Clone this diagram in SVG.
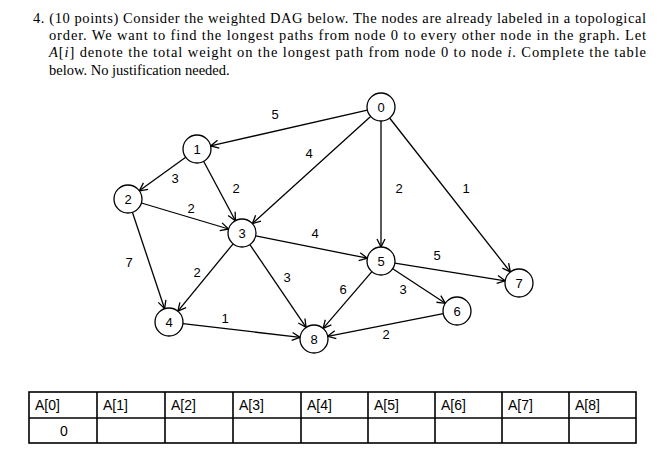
<svg xmlns="http://www.w3.org/2000/svg" width="666" height="455" viewBox="0 0 666 455">
<style>
.q{font-family:"Liberation Serif",serif;font-size:14.5px;fill:#000}
.n circle{fill:#fff;stroke:#000;stroke-width:1.3}
.n text,.w{font-family:"Liberation Sans",Arial,sans-serif;font-size:13px;text-anchor:middle;fill:#000}
.e line{stroke:#000;stroke-width:1.3;marker-end:url(#a)}
.t rect,.t line{fill:none;stroke:#000;stroke-width:1.6}
.t text{font-family:"Liberation Sans",Arial,sans-serif;font-size:14px;fill:#000}
</style>
<defs><marker id="a" markerUnits="userSpaceOnUse" markerWidth="10" markerHeight="10" refX="9" refY="5" orient="auto"><path d="M1,1 L9,5 L1,9" fill="none" stroke="#000" stroke-width="1.3"/></marker></defs>
<text class="q" x="33" y="23" textLength="613" lengthAdjust="spacing">4.  (10 points)  Consider the weighted DAG below. The nodes are already labeled in a topological</text>
<text class="q" x="49" y="40" textLength="597" lengthAdjust="spacing">order.  We want to find the longest paths from node 0 to every other node in the graph.  Let</text>
<text class="q" x="49" y="57" textLength="597" lengthAdjust="spacing"><tspan font-style="italic">A</tspan>[<tspan font-style="italic">i</tspan>] denote the total weight on the longest path from node 0 to node <tspan font-style="italic">i</tspan>.  Complete the table</text>
<text class="q" x="49" y="75">below. No justification needed.</text>
<g id="edges" class="e">
<line x1="367.4" y1="110.1" x2="210.6" y2="145.9"/>
<line x1="370.6" y1="116.4" x2="252.4" y2="223.6"/>
<line x1="381" y1="121" x2="381" y2="247"/>
<line x1="389.6" y1="118" x2="510.4" y2="272"/>
<line x1="185.7" y1="157.2" x2="139.3" y2="190.8"/>
<line x1="203.6" y1="161.3" x2="235.4" y2="220.7"/>
<line x1="141.4" y1="203" x2="228.6" y2="229"/>
<line x1="132.4" y1="212.3" x2="164.6" y2="308.7"/>
<line x1="233.1" y1="243.8" x2="177.9" y2="311.2"/>
<line x1="249.9" y1="244.6" x2="306.1" y2="327.4"/>
<line x1="255.7" y1="235.8" x2="367.3" y2="258.2"/>
<line x1="394.8" y1="263.2" x2="505.2" y2="280.8"/>
<line x1="392.7" y1="268.7" x2="445.3" y2="303.3"/>
<line x1="371.9" y1="271.6" x2="323.1" y2="328.4"/>
<line x1="443.3" y1="313.7" x2="327.7" y2="336.3"/>
<line x1="182.9" y1="323.6" x2="300.1" y2="337.4"/>
</g>
<g id="weights">
<text class="w" x="275" y="119">5</text>
<text class="w" x="309" y="158">4</text>
<text class="w" x="175" y="183">3</text>
<text class="w" x="236" y="193">2</text>
<text class="w" x="191" y="213">2</text>
<text class="w" x="399" y="193">2</text>
<text class="w" x="466" y="193">1</text>
<text class="w" x="315" y="238">4</text>
<text class="w" x="437" y="260">5</text>
<text class="w" x="129" y="267">7</text>
<text class="w" x="197" y="277">2</text>
<text class="w" x="287" y="282">3</text>
<text class="w" x="343" y="294">6</text>
<text class="w" x="403" y="294">3</text>
<text class="w" x="225" y="323">1</text>
<text class="w" x="386" y="339">2</text>
</g>
<g id="node0" class="n"><circle cx="381" cy="107" r="14"/><text x="381" y="111.5">0</text></g>
<g id="node1" class="n"><circle cx="197" cy="149" r="14"/><text x="197" y="153.5">1</text></g>
<g id="node2" class="n"><circle cx="128" cy="199" r="14"/><text x="128" y="203.5">2</text></g>
<g id="node3" class="n"><circle cx="242" cy="233" r="14"/><text x="242" y="237.5">3</text></g>
<g id="node4" class="n"><circle cx="169" cy="322" r="14"/><text x="169" y="326.5">4</text></g>
<g id="node5" class="n"><circle cx="381" cy="261" r="14"/><text x="381" y="265.5">5</text></g>
<g id="node6" class="n"><circle cx="457" cy="311" r="14"/><text x="457" y="315.5">6</text></g>
<g id="node7" class="n"><circle cx="519" cy="283" r="14"/><text x="519" y="287.5">7</text></g>
<g id="node8" class="n"><circle cx="314" cy="339" r="14"/><text x="314" y="343.5">8</text></g>
<g id="table" class="t">
<rect x="29" y="392" width="607" height="51"/>
<line x1="29" y1="418" x2="636" y2="418"/>
<line x1="97" y1="392" x2="97" y2="443"/>
<line x1="165" y1="392" x2="165" y2="443"/>
<line x1="233" y1="392" x2="233" y2="443"/>
<line x1="301" y1="392" x2="301" y2="443"/>
<line x1="368" y1="392" x2="368" y2="443"/>
<line x1="435" y1="392" x2="435" y2="443"/>
<line x1="502" y1="392" x2="502" y2="443"/>
<line x1="569" y1="392" x2="569" y2="443"/>
<text x="35" y="410">A[0]</text>
<text x="103" y="410">A[1]</text>
<text x="171" y="410">A[2]</text>
<text x="239" y="410">A[3]</text>
<text x="307" y="410">A[4]</text>
<text x="374" y="410">A[5]</text>
<text x="441" y="410">A[6]</text>
<text x="508" y="410">A[7]</text>
<text x="575" y="410">A[8]</text>
<text x="60" y="436">0</text>
</g>
</svg>
